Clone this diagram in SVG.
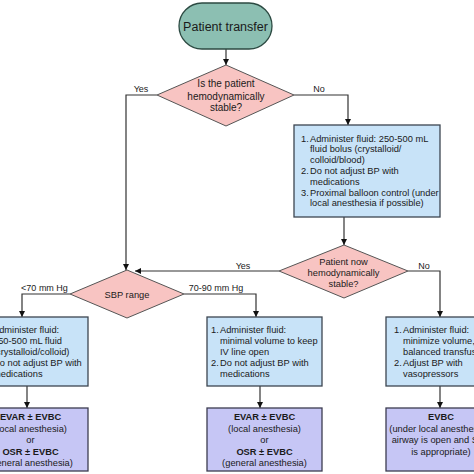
<svg xmlns="http://www.w3.org/2000/svg" width="474" height="474" viewBox="0 0 474 474">
<defs>
<marker id="arr" viewBox="0 0 10 10" refX="10" refY="5" markerWidth="6" markerHeight="6" markerUnits="userSpaceOnUse" orient="auto">
<path d="M0,0 L10,5 L0,10 z" fill="#111"/>
</marker>
<style>
text{font-family:"Liberation Sans",Arial,sans-serif;fill:#1a1a1a}
.t{font-size:9.3px}
.c{text-anchor:middle}
.b{font-weight:bold}
.lbl{font-size:9px;fill:#222}
.term{fill:#8cbfb2;stroke:#2c4a42;stroke-width:1.3}
.dia{fill:#f8c4c2;stroke:#555;stroke-width:1}
.blue{fill:#c8e3f8;stroke:#3c4650;stroke-width:1.3}
.purp{fill:#c6c6f5;stroke:#3c3c50;stroke-width:1.3}
.conn path{fill:none;stroke:#333;stroke-width:1.2;marker-end:url(#arr)}
</style>
</defs>
<rect width="474" height="474" fill="#ffffff"/>

<g id="connectors" class="conn">
<path d="M226,49 V65"/>
<path d="M157,95 H126 V270"/>
<path d="M294,95 H348 V125"/>
<path d="M344,217 V245"/>
<path d="M279,271 H135"/>
<path d="M408,271 H440 V317"/>
<path d="M70,294 H22 V317"/>
<path d="M184,294 H256 V317"/>
<path d="M27,386 V408"/>
<path d="M260,386 V408"/>
<path d="M440,386 V408"/>
</g>

<g id="edge-labels" class="lbl">
<text class="lbl c" x="141" y="92">Yes</text>
<text class="lbl c" x="319" y="92">No</text>
<text class="lbl c" x="243" y="269">Yes</text>
<text class="lbl c" x="424" y="269">No</text>
<text class="lbl c" x="44.5" y="291">&lt;70 mm Hg</text>
<text class="lbl c" x="216" y="291">70-90 mm Hg</text>
</g>

<g id="start">
<rect class="term" x="179" y="3" width="93" height="46" rx="23" ry="23"/>
<text class="c" x="225.5" y="30.5" style="font-size:12.5px">Patient transfer</text>
</g>

<g id="stable1">
<polygon class="dia" points="226,65 294,95 226,126 157,95"/>
<text class="c" x="226" y="87" style="font-size:10px">Is the patient</text>
<text class="c" x="226" y="99.5" style="font-size:10px">hemodynamically</text>
<text class="c" x="226" y="111" style="font-size:10px">stable?</text>
</g>

<g id="unstable-care">
<rect class="blue" x="294" y="125" width="146" height="92"/>
<text class="t" x="301" y="141.5">1.</text><text class="t" x="310" y="141.5">Administer fluid: 250-500 mL</text>
<text class="t" x="310" y="152.3">fluid bolus (crystalloid/</text>
<text class="t" x="310" y="163.1">colloid/blood)</text>
<text class="t" x="301" y="173.9">2.</text><text class="t" x="310" y="173.9">Do not adjust BP with</text>
<text class="t" x="310" y="184.7">medications</text>
<text class="t" x="301" y="195.5">3.</text><text class="t" x="310" y="195.5">Proximal balloon control (under</text>
<text class="t" x="310" y="206.3">local anesthesia if possible)</text>
</g>

<g id="stable2">
<polygon class="dia" points="344,245 408,271 344,298 279,271"/>
<text class="t c" x="343.5" y="264.5">Patient now</text>
<text class="t c" x="343.5" y="275.5">hemodynamically</text>
<text class="t c" x="343.5" y="286.5">stable?</text>
</g>

<g id="sbp">
<polygon class="dia" points="127,270 184,294 127,318 70,294"/>
<text class="t c" x="127" y="297.5">SBP range</text>
</g>

<g id="care-low">
<rect class="blue" x="-27" y="317" width="115" height="69"/>
<text class="t" x="-16" y="332.5">1.</text><text class="t" x="-7" y="332.5">Administer fluid:</text>
<text class="t" x="-7" y="343.5">250-500 mL fluid</text>
<text class="t" x="-7" y="354.5">(crystalloid/colloid)</text>
<text class="t" x="-16" y="365.5">2.</text><text class="t" x="-7" y="365.5">Do not adjust BP with</text>
<text class="t" x="-7" y="376.5">medications</text>
</g>

<g id="care-mid">
<rect class="blue" x="207" y="317" width="115" height="69"/>
<text class="t" x="211" y="332.5">1.</text><text class="t" x="220" y="332.5">Administer fluid:</text>
<text class="t" x="220" y="343.5">minimal volume to keep</text>
<text class="t" x="220" y="354.5">IV line open</text>
<text class="t" x="211" y="365.5">2.</text><text class="t" x="220" y="365.5">Do not adjust BP with</text>
<text class="t" x="220" y="376.5">medications</text>
</g>

<g id="care-unstable">
<rect class="blue" x="386" y="317" width="112" height="69"/>
<text class="t" x="394" y="332.5">1.</text><text class="t" x="403" y="332.5">Administer fluid:</text>
<text class="t" x="403" y="343.5">minimize volume,</text>
<text class="t" x="403" y="354.5">balanced transfusion</text>
<text class="t" x="394" y="365.5">2.</text><text class="t" x="403" y="365.5">Adjust BP with</text>
<text class="t" x="403" y="376.5">vasopressors</text>
</g>

<g id="surgery-low">
<rect class="purp" x="-27" y="408" width="115" height="63"/>
<text class="t c b" x="30.5" y="420">EVAR ± EVBC</text>
<text class="t c" x="30.5" y="431.5">(local anesthesia)</text>
<text class="t c" x="30.5" y="442.5">or</text>
<text class="t c b" x="30.5" y="454.5">OSR ± EVBC</text>
<text class="t c" x="30.5" y="465.5">(general anesthesia)</text>
</g>

<g id="surgery-mid">
<rect class="purp" x="207" y="408" width="115" height="63"/>
<text class="t c b" x="264.5" y="420">EVAR ± EVBC</text>
<text class="t c" x="264.5" y="431.5">(local anesthesia)</text>
<text class="t c" x="264.5" y="442.5">or</text>
<text class="t c b" x="264.5" y="454.5">OSR ± EVBC</text>
<text class="t c" x="264.5" y="465.5">(general anesthesia)</text>
</g>

<g id="surgery-unstable">
<rect class="purp" x="386" y="408" width="112" height="63"/>
<text class="t c b" x="441" y="420">EVBC</text>
<text class="t c" x="441" y="431.5">(under local anesthesia if</text>
<text class="t c" x="441" y="442.5">airway is open and SBP</text>
<text class="t c" x="441" y="454.5">is appropriate)</text>
</g>
</svg>
